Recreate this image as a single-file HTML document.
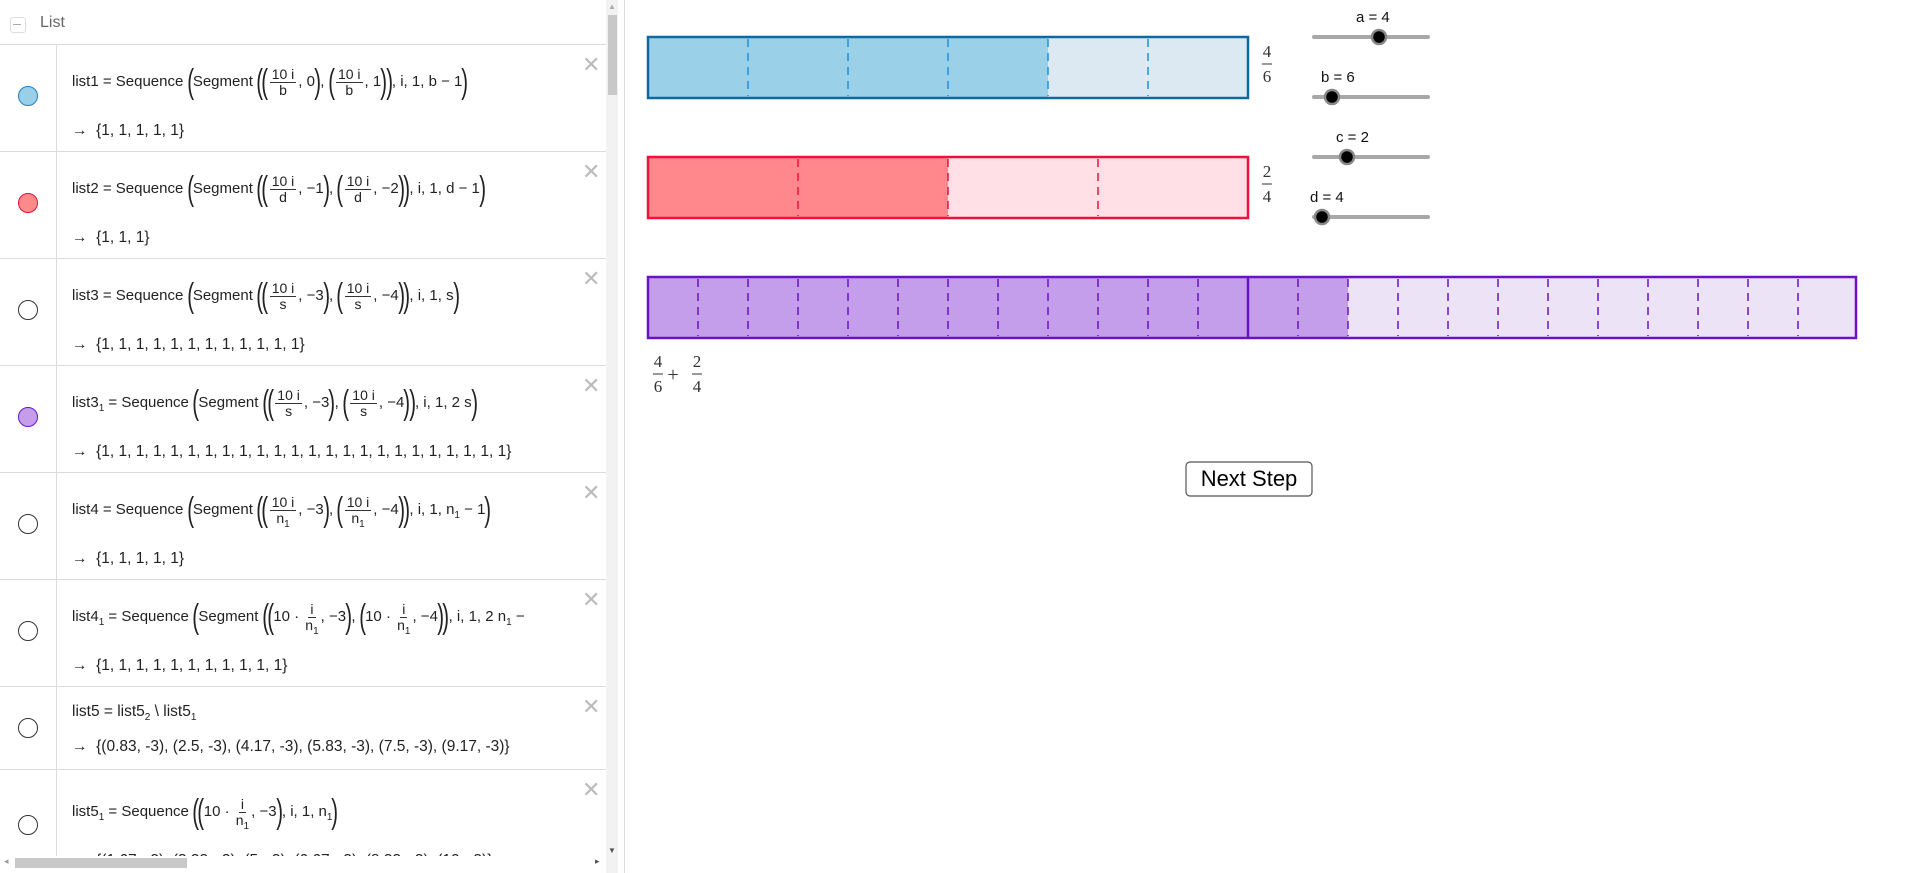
<!DOCTYPE html>
<html><head><meta charset="utf-8"><style>
body{margin:0;width:1920px;height:873px;overflow:hidden;background:#fff;font-family:"Liberation Sans",sans-serif;position:relative}
.panel{position:absolute;left:0;top:0;width:606px;height:873px;background:#fff}
.sep{position:absolute;left:0;width:606px;height:1px;background:#dcdcdc}
.vline{position:absolute;left:56px;top:44px;width:1px;height:819px;background:#dcdcdc}
.circ{position:absolute;left:18px;width:18px;height:18px;border-radius:50%;border:1.5px solid #333;background:#fff}
.f{position:absolute;left:72px;font-size:15px;color:#222;white-space:nowrap;line-height:44px;height:44px}
.r{position:absolute;left:72px;font-size:15.5px;color:#222;white-space:nowrap}
.x{position:absolute;left:582px;font-size:22px;color:#bbb;font-weight:100}
.fr{display:inline-flex;flex-direction:column;align-items:center;font-size:14px;line-height:15px;margin:0 2px;vertical-align:middle}
.fr span:first-child{border-bottom:1px solid #333;padding:0 2px}
.p{font-size:34px;font-weight:100;line-height:30px;transform:scaleX(.6);display:inline-block;margin:0 -3px;vertical-align:middle}
sub{font-size:10px;line-height:0}
</style></head><body>
<div class="panel">
 <div style="position:absolute;left:10px;top:17px;width:14px;height:14px;border:1px solid #ddd;border-radius:3px"></div>
 <div style="position:absolute;left:13px;top:24px;width:8px;height:1px;background:#aaa"></div>
 <div style="position:absolute;left:40px;top:14px;font-size:16px;color:#666">List</div>
 <div class="sep" style="top:44px"></div><div class="sep" style="top:151px"></div><div class="sep" style="top:258px"></div><div class="sep" style="top:365px"></div><div class="sep" style="top:472px"></div><div class="sep" style="top:579px"></div><div class="sep" style="top:686px"></div><div class="sep" style="top:769px"></div>
 <div class="vline"></div>

 <div class="circ" style="top:86px;background:#99d0e8;border-color:#1f80c8"></div>
 <div class="f" style="top:60px">list1 = Sequence <span class="p">(</span>Segment <span class="p">(</span><span class="p">(</span><span class="fr"><span>10 i</span><span>b</span></span>, 0<span class="p">)</span>, <span class="p">(</span><span class="fr"><span>10 i</span><span>b</span></span>, 1<span class="p">)</span><span class="p">)</span>, i, 1, b − 1<span class="p">)</span></div>
 <div class="r" style="top:122px">→&nbsp; {1, 1, 1, 1, 1}</div>
 <div class="x" style="top:52px">✕</div>

 <div class="circ" style="top:193px;background:#ff8a8a;border-color:#e0103c"></div>
 <div class="f" style="top:167px">list2 = Sequence <span class="p">(</span>Segment <span class="p">(</span><span class="p">(</span><span class="fr"><span>10 i</span><span>d</span></span>, −1<span class="p">)</span>, <span class="p">(</span><span class="fr"><span>10 i</span><span>d</span></span>, −2<span class="p">)</span><span class="p">)</span>, i, 1, d − 1<span class="p">)</span></div>
 <div class="r" style="top:229px">→&nbsp; {1, 1, 1}</div>
 <div class="x" style="top:159px">✕</div>

 <div class="circ" style="top:300px"></div>
 <div class="f" style="top:274px">list3 = Sequence <span class="p">(</span>Segment <span class="p">(</span><span class="p">(</span><span class="fr"><span>10 i</span><span>s</span></span>, −3<span class="p">)</span>, <span class="p">(</span><span class="fr"><span>10 i</span><span>s</span></span>, −4<span class="p">)</span><span class="p">)</span>, i, 1, s<span class="p">)</span></div>
 <div class="r" style="top:336px">→&nbsp; {1, 1, 1, 1, 1, 1, 1, 1, 1, 1, 1, 1}</div>
 <div class="x" style="top:266px">✕</div>

 <div class="circ" style="top:407px;background:#c59eeb;border-color:#6a12c8"></div>
 <div class="f" style="top:381px">list3<sub>1</sub> = Sequence <span class="p">(</span>Segment <span class="p">(</span><span class="p">(</span><span class="fr"><span>10 i</span><span>s</span></span>, −3<span class="p">)</span>, <span class="p">(</span><span class="fr"><span>10 i</span><span>s</span></span>, −4<span class="p">)</span><span class="p">)</span>, i, 1, 2 s<span class="p">)</span></div>
 <div class="r" style="top:443px">→&nbsp; {1, 1, 1, 1, 1, 1, 1, 1, 1, 1, 1, 1, 1, 1, 1, 1, 1, 1, 1, 1, 1, 1, 1, 1}</div>
 <div class="x" style="top:373px">✕</div>

 <div class="circ" style="top:514px"></div>
 <div class="f" style="top:488px">list4 = Sequence <span class="p">(</span>Segment <span class="p">(</span><span class="p">(</span><span class="fr"><span>10 i</span><span>n<sub>1</sub></span></span>, −3<span class="p">)</span>, <span class="p">(</span><span class="fr"><span>10 i</span><span>n<sub>1</sub></span></span>, −4<span class="p">)</span><span class="p">)</span>, i, 1, n<sub>1</sub> − 1<span class="p">)</span></div>
 <div class="r" style="top:550px">→&nbsp; {1, 1, 1, 1, 1}</div>
 <div class="x" style="top:480px">✕</div>

 <div class="circ" style="top:621px"></div>
 <div class="f" style="top:595px;width:534px;overflow:hidden">list4<sub>1</sub> = Sequence <span class="p">(</span>Segment <span class="p">(</span><span class="p">(</span>10 · <span class="fr"><span>i</span><span>n<sub>1</sub></span></span>, −3<span class="p">)</span>, <span class="p">(</span>10 · <span class="fr"><span>i</span><span>n<sub>1</sub></span></span>, −4<span class="p">)</span><span class="p">)</span>, i, 1, 2 n<sub>1</sub> −</div>
 <div class="r" style="top:657px">→&nbsp; {1, 1, 1, 1, 1, 1, 1, 1, 1, 1, 1}</div>
 <div class="x" style="top:587px">✕</div>

 <div class="circ" style="top:718px"></div>
 <div class="r" style="top:703px">list5 = list5<sub>2</sub> \ list5<sub>1</sub></div>
 <div class="r" style="top:738px">→&nbsp; {(0.83, -3), (2.5, -3), (4.17, -3), (5.83, -3), (7.5, -3), (9.17, -3)}</div>
 <div class="x" style="top:694px">✕</div>

 <div class="circ" style="top:815px"></div>
 <div class="f" style="top:790px">list5<sub>1</sub> = Sequence <span class="p">(</span><span class="p">(</span>10 · <span class="fr"><span>i</span><span>n<sub>1</sub></span></span>, −3<span class="p">)</span>, i, 1, n<sub>1</sub><span class="p">)</span></div>
 <div class="r" style="top:852px">→&nbsp; {(1.67, -3), (3.33, -3), (5, -3), (6.67, -3), (8.33, -3), (10, -3)}</div>
 <div class="x" style="top:777px">✕</div>

 <div style="position:absolute;left:0;top:856px;width:606px;height:17px;background:#fff"></div>
 <div style="position:absolute;left:15px;top:858px;width:172px;height:10px;background:#c8c8c8"></div>
 <div style="position:absolute;left:4px;top:856px;font-size:9px;color:#999">◂</div>
 <div style="position:absolute;left:595px;top:856px;font-size:9px;color:#555">▸</div>
</div>
<div style="position:absolute;left:606px;top:0;width:12px;height:873px;background:#f2f2f2"></div>
<div style="position:absolute;left:608px;top:15px;width:9px;height:80px;background:#c8c8c8"></div>
<div style="position:absolute;left:608px;top:2px;font-size:8px;color:#aaa">▲</div>
<div style="position:absolute;left:608px;top:846px;font-size:8px;color:#555">▼</div>
<div style="position:absolute;left:624px;top:0;width:1px;height:873px;background:#dcdcdc"></div>

<svg style="position:absolute;left:0;top:0" width="1920" height="873">
 <rect x="648" y="37" width="400" height="61" fill="#9ad1e8"/>
 <rect x="1048" y="37" width="200" height="61" fill="#dce9f2"/>
 <g stroke="#1f8fd8" stroke-width="1.5" stroke-dasharray="8,6">
  <line x1="748" y1="39" x2="748" y2="96"/><line x1="848" y1="39" x2="848" y2="96"/><line x1="948" y1="39" x2="948" y2="96"/><line x1="1048" y1="39" x2="1048" y2="96"/><line x1="1148" y1="39" x2="1148" y2="96"/>
 </g>
 <rect x="648" y="37" width="600" height="61" fill="none" stroke="#0d6aa0" stroke-width="2.5"/>

 <rect x="648" y="157" width="300" height="61" fill="#ff888c"/>
 <rect x="948" y="157" width="300" height="61" fill="#ffe0e6"/>
 <g stroke="#f0103c" stroke-width="1.5" stroke-dasharray="8,6">
  <line x1="798" y1="159" x2="798" y2="216"/><line x1="948" y1="159" x2="948" y2="216"/><line x1="1098" y1="159" x2="1098" y2="216"/>
 </g>
 <rect x="648" y="157" width="600" height="61" fill="none" stroke="#f0103c" stroke-width="2.5"/>

 <rect x="648" y="277" width="700" height="61" fill="#c59eeb"/>
 <rect x="1348" y="277" width="508" height="61" fill="#ede3f7"/>
 <g stroke="#6a12c8" stroke-width="1.5" stroke-dasharray="8,6">
  <line x1="698" y1="279" x2="698" y2="336"/><line x1="748" y1="279" x2="748" y2="336"/><line x1="798" y1="279" x2="798" y2="336"/><line x1="848" y1="279" x2="848" y2="336"/><line x1="898" y1="279" x2="898" y2="336"/><line x1="948" y1="279" x2="948" y2="336"/><line x1="998" y1="279" x2="998" y2="336"/><line x1="1048" y1="279" x2="1048" y2="336"/><line x1="1098" y1="279" x2="1098" y2="336"/><line x1="1148" y1="279" x2="1148" y2="336"/><line x1="1198" y1="279" x2="1198" y2="336"/><line x1="1298" y1="279" x2="1298" y2="336"/><line x1="1348" y1="279" x2="1348" y2="336"/><line x1="1398" y1="279" x2="1398" y2="336"/><line x1="1448" y1="279" x2="1448" y2="336"/><line x1="1498" y1="279" x2="1498" y2="336"/><line x1="1548" y1="279" x2="1548" y2="336"/><line x1="1598" y1="279" x2="1598" y2="336"/><line x1="1648" y1="279" x2="1648" y2="336"/><line x1="1698" y1="279" x2="1698" y2="336"/><line x1="1748" y1="279" x2="1748" y2="336"/><line x1="1798" y1="279" x2="1798" y2="336"/>
 </g>
 <line x1="1248" y1="277" x2="1248" y2="338" stroke="#6a12c8" stroke-width="2.5"/>
 <rect x="648" y="277" width="1208" height="61" fill="none" stroke="#6a12c8" stroke-width="2.5"/>

 <g font-family="Liberation Serif" font-size="17" fill="#333" text-anchor="middle">
  <text x="1267" y="57">4</text><line x1="1262" y1="64" x2="1272" y2="64" stroke="#333"/><text x="1267" y="82">6</text>
  <text x="1267" y="177">2</text><line x1="1262" y1="184" x2="1272" y2="184" stroke="#333"/><text x="1267" y="202">4</text>
  <text x="658" y="367">4</text><line x1="653" y1="374" x2="663" y2="374" stroke="#333"/><text x="658" y="392">6</text>
  <text x="673" y="381" font-size="20">+</text>
  <text x="697" y="367">2</text><line x1="692" y1="374" x2="702" y2="374" stroke="#333"/><text x="697" y="392">4</text>
 </g>

 <g stroke="#a8a8a8" stroke-width="4" stroke-linecap="round">
  <line x1="1314" y1="37" x2="1428" y2="37"/><line x1="1314" y1="97" x2="1428" y2="97"/><line x1="1314" y1="157" x2="1428" y2="157"/><line x1="1314" y1="217" x2="1428" y2="217"/>
 </g>
 <g fill="#000" stroke="#888" stroke-width="2.5">
  <circle cx="1379" cy="37" r="7"/><circle cx="1332" cy="97" r="7"/><circle cx="1347" cy="157" r="7"/><circle cx="1322" cy="217" r="7"/>
 </g>
 <g font-family="Liberation Sans" font-size="15" fill="#111">
  <text x="1356" y="22">a = 4</text><text x="1321" y="82">b = 6</text><text x="1336" y="142">c = 2</text><text x="1310" y="202">d = 4</text>
 </g>
 <rect x="1186" y="462" width="126" height="34" rx="4" fill="#fff" stroke="#555" stroke-width="1.2"/>
 <text x="1249" y="486" font-family="Liberation Sans" font-size="22" fill="#000" text-anchor="middle">Next Step</text>
</svg>
</body></html>
